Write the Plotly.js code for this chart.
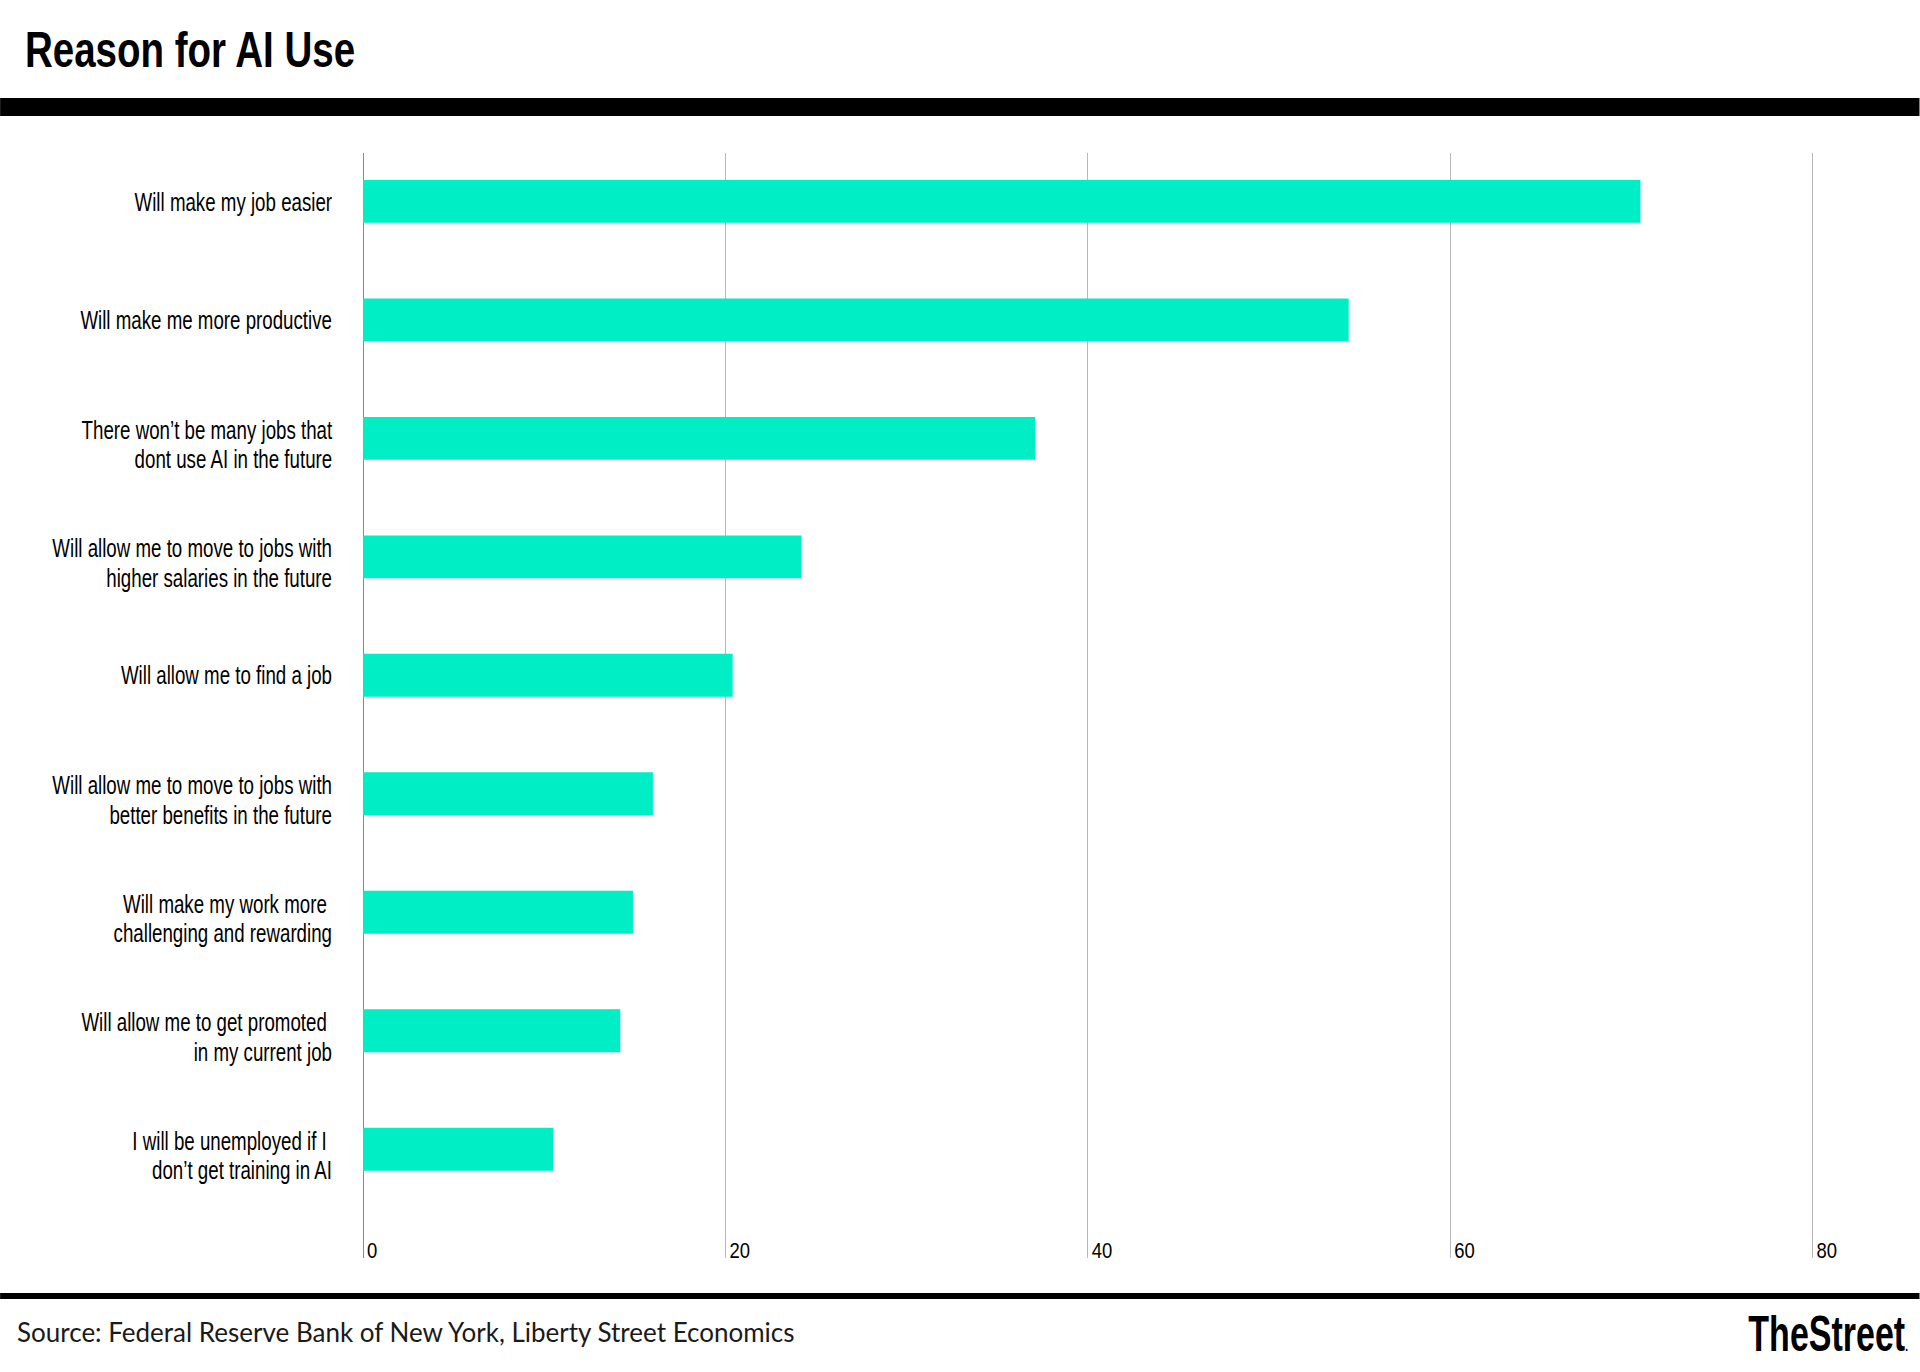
<!DOCTYPE html>
<html>
<head>
<meta charset="utf-8">
<script src="https://cdn.plot.ly/plotly-3.0.1.min.js"></script>
<style>
  html, body { margin: 0; padding: 0; background: #ffffff; }
  #chart { width: 1920px; height: 1372px; }
</style>
</head>
<body>
<div id="chart"></div>
<script>
// ---- Data ----
const categories = [
  "Will make my job easier",
  "Will make me more productive",
  "There won’t be many jobs that<br>dont use AI in the future",
  "Will allow me to move to jobs with<br>higher salaries in the future",
  "Will allow me to find a job",
  "Will allow me to move to jobs with<br>better benefits in the future",
  "Will make my work more <br>challenging and rewarding",
  "Will allow me to get promoted <br>in my current job",
  "I will be unemployed if I <br>don’t get training in AI"
];
const values = [70.5, 54.4, 37.1, 24.2, 20.4, 16.0, 14.9, 14.2, 10.5];
const xTickVals = [0, 20, 40, 60, 80];
const xTickText = ["0", "20", "40", "60", "80"];
const titleText = "Reason for AI Use";
const sourceText = "Source: Federal Reserve Bank of New York, Liberty Street Economics";
const brandText = "TheStreet<span style='font-size:15px'>.</span>";

// ---- Layout geometry ----
const W = 1920, H = 1372;
const L = 363, R = 34.5, T = 153, B = 114;
const PW = W - L - R, PH = H - T - B;
const px = x => (x - L) / PW;
const py = y => (H - B - y) / PH;

const sans = "'Liberation Sans', Arial, sans-serif";

const trace = {
  type: "bar",
  orientation: "h",
  y: categories,
  x: values,
  marker: { color: "#00EEC6", line: { width: 0 } },
  hoverinfo: "skip"
};

const layout = {
  width: W,
  height: H,
  paper_bgcolor: "#ffffff",
  plot_bgcolor: "#ffffff",
  margin: { l: L, r: R, t: T, b: B, pad: 0 },
  showlegend: false,
  bargap: 0.638,
  title: {
    text: titleText,
    font: { family: sans, size: 50, color: "#000000", weight: "bold" },
    x: 28 / W,
    xanchor: "left",
    xref: "container",
    y: 1 - 49 / H,
    yref: "container",
    yanchor: "middle"
  },
  xaxis: {
    range: [0, 84],
    tickvals: xTickVals,
    ticktext: xTickText,
    ticks: "",
    ticklabelposition: "inside right",
    tickfont: { family: sans, size: 22, color: "#000000" },
    showgrid: true,
    gridcolor: "#b8b8b8",
    gridwidth: 1,
    zeroline: true,
    zerolinecolor: "#8a8a8a",
    zerolinewidth: 1,
    showline: false,
    fixedrange: true
  },
  yaxis: {
    type: "category",
    range: [8.918, -0.4085],
    ticks: "",
    ticklabelstandoff: 30,
    tickfont: { family: sans, size: 26, color: "#000000" },
    showgrid: false,
    zeroline: false,
    showline: false,
    fixedrange: true
  },
  shapes: [
    { type: "rect", xref: "paper", yref: "paper",
      x0: px(0), x1: px(W), y0: py(116), y1: py(98),
      fillcolor: "#000000", line: { width: 0 }, layer: "above" },
    { type: "rect", xref: "paper", yref: "paper",
      x0: px(0), x1: px(W), y0: py(1299), y1: py(1293),
      fillcolor: "#000000", line: { width: 0 }, layer: "above" }
  ],
  annotations: [
    { text: sourceText, xref: "paper", yref: "paper",
      x: px(15), y: py(1332), xanchor: "left", yanchor: "middle",
      showarrow: false,
      font: { family: "Lato, 'Noto Sans', sans-serif", size: 26, color: "#1a1a1a" } },
    { text: brandText, xref: "paper", yref: "paper",
      x: px(1908), y: py(1333), xanchor: "right", yanchor: "middle",
      showarrow: false,
      font: { family: sans, size: 50, color: "#000000", weight: "bold" } }
  ]
};

// Horizontal condensing of text (the reference uses a condensed typeface)
function condense(el, f, side) {
  const bb = el.getBBox();
  const pivot = side === "right" ? bb.x + bb.width : bb.x;
  const prev = el.getAttribute("transform") || "";
  el.setAttribute("transform",
    (prev + " translate(" + pivot + ",0) scale(" + f + ",1) translate(" + (-pivot) + ",0)").trim());
}
function shift(el, dx, dy) {
  const prev = el.getAttribute("transform") || "";
  el.setAttribute("transform", ("translate(" + dx + "," + dy + ") " + prev).trim());
}

const gd = document.getElementById("chart");
Plotly.newPlot(gd, [trace], layout, { staticPlot: true, displayModeBar: false }).then(() => {
  // y-axis category labels: condensed, tighter line spacing for two-line labels
  const ySize = 26, lineEm = 1.13;
  gd.querySelectorAll("g.ytick text").forEach(t => {
    const lines = t.querySelectorAll("tspan.line");
    if (lines.length > 1) {
      lines.forEach((ln, i) => { if (i > 0) ln.setAttribute("dy", lineEm + "em"); });
      const tighten = (lines.length - 1) * (1.3 - lineEm) * ySize;
      shift(t, 0, tighten / 2 + 6);
    }
    condense(t, 0.72, "right");
  });

  // x-axis tick labels: condensed, placed just right of their gridline at plot bottom
  const xa = gd._fullLayout.xaxis;
  gd.querySelectorAll("g.xtick text").forEach(t => {
    const v = Number(t.__data__ && t.__data__.x);
    condense(t, 0.84, "left");
    const r = t.getBoundingClientRect();
    const gx = L + xa.l2p(v);
    shift(t, (gx + 4) - r.left, (H - B + 4.7) - r.bottom);
  });

  // title
  const title = gd.querySelector("text.gtitle");
  if (title) {
    condense(title, 0.77, "left");
    const r = title.getBoundingClientRect();
    shift(title, 25 - r.left, (66 + 10.6) - r.bottom);
  }

  // brand mark
  const brand = gd.querySelector('.annotation[data-index="1"] text');
  if (brand) {
    condense(brand, 0.68, "right");
    const r = brand.getBoundingClientRect();
    shift(brand, 1908 - r.right, (1351 + 10.6) - r.bottom);
  }
});
</script>
</body>
</html>
